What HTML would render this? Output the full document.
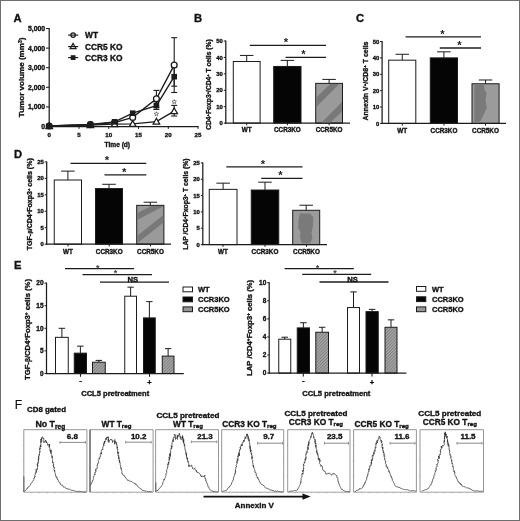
<!DOCTYPE html>
<html><head><meta charset="utf-8"><title>Figure</title>
<style>
html,body{margin:0;padding:0;background:#fff;}
body{width:520px;height:521px;overflow:hidden;}
svg{display:block;font-family:"Liberation Sans",Arial,Helvetica,sans-serif;}
text{stroke:#111;stroke-width:0.34px;paint-order:stroke;}
</style></head><body>
<svg width="520" height="521" viewBox="0 0 520 521">
<defs>
<pattern id="hFine" width="2.2" height="2.2" patternUnits="userSpaceOnUse" patternTransform="rotate(-45)">
<rect width="2.2" height="2.2" fill="#a9a9a9"/><rect width="2.2" height="1.0" fill="#7f7f7f"/></pattern>
<pattern id="hBand" width="20" height="20" patternUnits="userSpaceOnUse" patternTransform="rotate(-42) translate(0,3)">
<rect width="20" height="20" fill="#9a9a9a"/><rect y="0" width="20" height="7" fill="#787878"/></pattern>
<pattern id="hBand2" width="20" height="20" patternUnits="userSpaceOnUse" patternTransform="rotate(-38) translate(0,9)">
<rect width="20" height="20" fill="#9a9a9a"/><rect y="0" width="20" height="7" fill="#787878"/></pattern>
</defs>
<rect x="0.5" y="0.5" width="519" height="520" fill="#fff" stroke="#6e6e6e" stroke-width="1"/>
<text x="13.40" y="21.90" font-size="11.2" text-anchor="start" font-weight="bold" fill="#111" >A</text>
<text x="194.00" y="21.70" font-size="11.2" text-anchor="start" font-weight="bold" fill="#111" >B</text>
<text x="356.00" y="21.60" font-size="11.2" text-anchor="start" font-weight="bold" fill="#111" >C</text>
<text x="14.00" y="157.60" font-size="11.2" text-anchor="start" font-weight="bold" fill="#111" >D</text>
<text x="14.00" y="269.40" font-size="11.2" text-anchor="start" font-weight="bold" fill="#111" >E</text>
<text x="14.80" y="409.20" font-size="12.2" text-anchor="start" font-weight="normal" fill="#111" style="stroke-width:0.15px">F</text>
<line x1="49.20" y1="28.00" x2="49.20" y2="127.10" stroke="#1c1c1c" stroke-width="1.25" />
<line x1="48.60" y1="126.50" x2="198.57" y2="126.50" stroke="#1c1c1c" stroke-width="1.25" />
<line x1="46.00" y1="126.50" x2="49.20" y2="126.50" stroke="#1c1c1c" stroke-width="1.05" />
<text x="45.20" y="128.90" font-size="6.9" text-anchor="end" font-weight="bold" fill="#111" >0</text>
<line x1="46.00" y1="106.90" x2="49.20" y2="106.90" stroke="#1c1c1c" stroke-width="1.05" />
<text x="45.20" y="109.30" font-size="6.9" text-anchor="end" font-weight="bold" fill="#111" >1,000</text>
<line x1="46.00" y1="87.30" x2="49.20" y2="87.30" stroke="#1c1c1c" stroke-width="1.05" />
<text x="45.20" y="89.70" font-size="6.9" text-anchor="end" font-weight="bold" fill="#111" >2,000</text>
<line x1="46.00" y1="67.70" x2="49.20" y2="67.70" stroke="#1c1c1c" stroke-width="1.05" />
<text x="45.20" y="70.10" font-size="6.9" text-anchor="end" font-weight="bold" fill="#111" >3,000</text>
<line x1="46.00" y1="48.10" x2="49.20" y2="48.10" stroke="#1c1c1c" stroke-width="1.05" />
<text x="45.20" y="50.50" font-size="6.9" text-anchor="end" font-weight="bold" fill="#111" >4,000</text>
<line x1="46.00" y1="28.50" x2="49.20" y2="28.50" stroke="#1c1c1c" stroke-width="1.05" />
<text x="45.20" y="30.90" font-size="6.9" text-anchor="end" font-weight="bold" fill="#111" >5,000</text>
<line x1="49.20" y1="126.50" x2="49.20" y2="128.90" stroke="#1c1c1c" stroke-width="1.0" />
<text x="49.20" y="136.80" font-size="6.2" text-anchor="middle" font-weight="bold" fill="#111" >0</text>
<line x1="78.97" y1="126.50" x2="78.97" y2="128.90" stroke="#1c1c1c" stroke-width="1.0" />
<text x="78.97" y="136.80" font-size="6.2" text-anchor="middle" font-weight="bold" fill="#111" >5</text>
<line x1="108.75" y1="126.50" x2="108.75" y2="128.90" stroke="#1c1c1c" stroke-width="1.0" />
<text x="108.75" y="136.80" font-size="6.2" text-anchor="middle" font-weight="bold" fill="#111" >10</text>
<line x1="138.53" y1="126.50" x2="138.53" y2="128.90" stroke="#1c1c1c" stroke-width="1.0" />
<text x="138.53" y="136.80" font-size="6.2" text-anchor="middle" font-weight="bold" fill="#111" >15</text>
<line x1="168.30" y1="126.50" x2="168.30" y2="128.90" stroke="#1c1c1c" stroke-width="1.0" />
<text x="168.30" y="136.80" font-size="6.2" text-anchor="middle" font-weight="bold" fill="#111" >20</text>
<line x1="198.07" y1="126.50" x2="198.07" y2="128.90" stroke="#1c1c1c" stroke-width="1.0" />
<text x="198.07" y="136.80" font-size="6.2" text-anchor="middle" font-weight="bold" fill="#111" >25</text>
<text x="117.30" y="147.20" font-size="6.6" text-anchor="middle" font-weight="bold" fill="#111" >Time (d)</text>
<text transform="translate(23.50,77.40) rotate(-90)" font-size="8.05" text-anchor="middle" font-weight="bold" fill="#111">Tumor volume (mm<tspan baseline-shift="46%" font-size="0.62em">3</tspan>)</text>
<line x1="174.20" y1="37.70" x2="174.20" y2="92.50" stroke="#1c1c1c" stroke-width="1.1" />
<line x1="171.20" y1="37.70" x2="177.20" y2="37.70" stroke="#1c1c1c" stroke-width="1.1" />
<line x1="171.20" y1="92.50" x2="177.20" y2="92.50" stroke="#1c1c1c" stroke-width="1.1" />
<line x1="156.40" y1="90.40" x2="156.40" y2="107.20" stroke="#1c1c1c" stroke-width="1.1" />
<line x1="153.40" y1="90.40" x2="159.40" y2="90.40" stroke="#1c1c1c" stroke-width="1.1" />
<line x1="153.40" y1="107.20" x2="159.40" y2="107.20" stroke="#1c1c1c" stroke-width="1.1" />
<line x1="174.20" y1="67.20" x2="174.20" y2="86.20" stroke="#1c1c1c" stroke-width="1.1" />
<line x1="171.20" y1="67.20" x2="177.20" y2="67.20" stroke="#1c1c1c" stroke-width="1.1" />
<line x1="171.20" y1="86.20" x2="177.20" y2="86.20" stroke="#1c1c1c" stroke-width="1.1" />
<line x1="156.40" y1="101.80" x2="156.40" y2="109.40" stroke="#1c1c1c" stroke-width="1.1" />
<line x1="153.40" y1="101.80" x2="159.40" y2="101.80" stroke="#1c1c1c" stroke-width="1.1" />
<line x1="153.40" y1="109.40" x2="159.40" y2="109.40" stroke="#1c1c1c" stroke-width="1.1" />
<line x1="174.20" y1="105.40" x2="174.20" y2="116.00" stroke="#1c1c1c" stroke-width="1.1" />
<line x1="171.20" y1="105.40" x2="177.20" y2="105.40" stroke="#1c1c1c" stroke-width="1.1" />
<line x1="171.20" y1="116.00" x2="177.20" y2="116.00" stroke="#1c1c1c" stroke-width="1.1" />
<line x1="132.70" y1="115.00" x2="132.70" y2="119.50" stroke="#1c1c1c" stroke-width="1.1" />
<line x1="130.20" y1="115.00" x2="135.20" y2="115.00" stroke="#1c1c1c" stroke-width="1.1" />
<line x1="130.20" y1="119.50" x2="135.20" y2="119.50" stroke="#1c1c1c" stroke-width="1.1" />
<polyline fill="none" stroke="#1c1c1c" stroke-width="1.35" points="49.2,126.0 90.4,124.6 114.6,122.6 132.7,117.4 156.4,98.8 174.2,65.1"/>
<polyline fill="none" stroke="#1c1c1c" stroke-width="1.35" points="49.2,126.0 90.4,125.2 114.6,124.2 132.7,123.9 156.4,121.6 174.2,111.2"/>
<polyline fill="none" stroke="#1c1c1c" stroke-width="1.35" points="49.2,126.0 90.4,124.4 114.6,121.8 132.7,113.2 156.4,105.6 174.2,76.7"/>
<circle cx="49.2" cy="126.0" r="2.9" fill="#fff" stroke="#1c1c1c" stroke-width="1.3"/>
<circle cx="90.4" cy="124.6" r="2.9" fill="#fff" stroke="#1c1c1c" stroke-width="1.3"/>
<circle cx="114.6" cy="122.6" r="2.9" fill="#fff" stroke="#1c1c1c" stroke-width="1.3"/>
<circle cx="132.7" cy="117.4" r="2.9" fill="#fff" stroke="#1c1c1c" stroke-width="1.3"/>
<circle cx="156.4" cy="98.8" r="2.9" fill="#fff" stroke="#1c1c1c" stroke-width="1.3"/>
<circle cx="174.2" cy="65.1" r="2.9" fill="#fff" stroke="#1c1c1c" stroke-width="1.3"/>
<polygon points="49.2,122.7 45.9,128.5 52.5,128.5" fill="#fff" stroke="#1c1c1c" stroke-width="1.25"/>
<polygon points="90.4,121.9 87.1,127.7 93.7,127.7" fill="#fff" stroke="#1c1c1c" stroke-width="1.25"/>
<polygon points="114.6,120.9 111.3,126.7 117.9,126.7" fill="#fff" stroke="#1c1c1c" stroke-width="1.25"/>
<polygon points="132.7,120.6 129.4,126.4 136.0,126.4" fill="#fff" stroke="#1c1c1c" stroke-width="1.25"/>
<polygon points="156.4,118.3 153.1,124.1 159.7,124.1" fill="#fff" stroke="#1c1c1c" stroke-width="1.25"/>
<polygon points="174.2,107.9 170.9,113.7 177.5,113.7" fill="#fff" stroke="#1c1c1c" stroke-width="1.25"/>
<rect x="46.4" y="123.2" width="5.6" height="5.6" fill="#1c1c1c"/>
<rect x="87.6" y="121.6" width="5.6" height="5.6" fill="#1c1c1c"/>
<rect x="111.8" y="119.0" width="5.6" height="5.6" fill="#1c1c1c"/>
<rect x="129.9" y="110.4" width="5.6" height="5.6" fill="#1c1c1c"/>
<rect x="153.6" y="102.8" width="5.6" height="5.6" fill="#1c1c1c"/>
<rect x="171.4" y="73.9" width="5.6" height="5.6" fill="#1c1c1c"/>
<polygon points="156.40,111.70 157.01,113.16 158.59,113.29 157.38,114.32 157.75,115.86 156.40,115.03 155.05,115.86 155.42,114.32 154.21,113.29 155.79,113.16" fill="#fff" stroke="#555" stroke-width="0.75"/>
<polygon points="174.20,99.50 174.81,100.96 176.39,101.09 175.18,102.12 175.55,103.66 174.20,102.83 172.85,103.66 173.22,102.12 172.01,101.09 173.59,100.96" fill="#fff" stroke="#555" stroke-width="0.75"/>
<circle cx="73.1" cy="35.1" r="2.2" fill="#fff" stroke="#1c1c1c" stroke-width="1.3"/>
<line x1="68.10" y1="35.10" x2="78.20" y2="35.10" stroke="#1c1c1c" stroke-width="1.15" />
<text x="85.00" y="38.00" font-size="8.35" text-anchor="start" font-weight="bold" fill="#111" >WT</text>
<polygon points="73.1,43.4 70.2,48.5 76.0,48.5" fill="#fff" stroke="#1c1c1c" stroke-width="1.25"/>
<line x1="68.10" y1="46.60" x2="78.20" y2="46.60" stroke="#1c1c1c" stroke-width="1.15" />
<text x="85.00" y="49.50" font-size="8.35" text-anchor="start" font-weight="bold" fill="#111" >CCR5 KO</text>
<rect x="70.7" y="55.2" width="4.8" height="4.8" fill="#1c1c1c"/>
<line x1="68.10" y1="57.60" x2="78.20" y2="57.60" stroke="#1c1c1c" stroke-width="1.15" />
<text x="85.00" y="60.50" font-size="8.35" text-anchor="start" font-weight="bold" fill="#111" >CCR3 KO</text>
<line x1="246.70" y1="55.45" x2="246.70" y2="61.52" stroke="#1c1c1c" stroke-width="1.0" />
<line x1="239.95" y1="55.45" x2="253.45" y2="55.45" stroke="#1c1c1c" stroke-width="1.0" />
<rect x="233.30" y="61.52" width="26.80" height="61.57" fill="#fff" stroke="#1c1c1c" stroke-width="1.0" />
<line x1="287.35" y1="60.38" x2="287.35" y2="66.45" stroke="#1c1c1c" stroke-width="1.0" />
<line x1="280.60" y1="60.38" x2="294.10" y2="60.38" stroke="#1c1c1c" stroke-width="1.0" />
<rect x="273.70" y="66.45" width="27.30" height="56.65" fill="#050505" stroke="#1c1c1c" stroke-width="1.0" />
<line x1="329.10" y1="79.42" x2="329.10" y2="83.36" stroke="#1c1c1c" stroke-width="1.0" />
<line x1="322.35" y1="79.42" x2="335.85" y2="79.42" stroke="#1c1c1c" stroke-width="1.0" />
<rect x="315.70" y="83.36" width="26.80" height="39.74" fill="#9a9a9a" stroke="#1c1c1c" stroke-width="1.0" />
<line x1="225.80" y1="40.50" x2="225.80" y2="123.70" stroke="#1c1c1c" stroke-width="1.25" />
<line x1="225.20" y1="123.10" x2="350.00" y2="123.10" stroke="#1c1c1c" stroke-width="1.25" />
<line x1="223.80" y1="123.10" x2="225.80" y2="123.10" stroke="#1c1c1c" stroke-width="1.0" />
<text x="222.90" y="125.22" font-size="5.9" text-anchor="end" font-weight="bold" fill="#111" >0</text>
<line x1="223.80" y1="106.68" x2="225.80" y2="106.68" stroke="#1c1c1c" stroke-width="1.0" />
<text x="222.90" y="108.80" font-size="5.9" text-anchor="end" font-weight="bold" fill="#111" >10</text>
<line x1="223.80" y1="90.26" x2="225.80" y2="90.26" stroke="#1c1c1c" stroke-width="1.0" />
<text x="222.90" y="92.38" font-size="5.9" text-anchor="end" font-weight="bold" fill="#111" >20</text>
<line x1="223.80" y1="73.84" x2="225.80" y2="73.84" stroke="#1c1c1c" stroke-width="1.0" />
<text x="222.90" y="75.96" font-size="5.9" text-anchor="end" font-weight="bold" fill="#111" >30</text>
<line x1="223.80" y1="57.42" x2="225.80" y2="57.42" stroke="#1c1c1c" stroke-width="1.0" />
<text x="222.90" y="59.54" font-size="5.9" text-anchor="end" font-weight="bold" fill="#111" >40</text>
<line x1="223.80" y1="41.00" x2="225.80" y2="41.00" stroke="#1c1c1c" stroke-width="1.0" />
<text x="222.90" y="43.12" font-size="5.9" text-anchor="end" font-weight="bold" fill="#111" >50</text>
<line x1="246.70" y1="123.10" x2="246.70" y2="125.30" stroke="#1c1c1c" stroke-width="1.0" />
<text x="246.70" y="132.20" font-size="6.35" text-anchor="middle" font-weight="bold" fill="#111" >WT</text>
<line x1="287.40" y1="123.10" x2="287.40" y2="125.30" stroke="#1c1c1c" stroke-width="1.0" />
<text x="287.40" y="132.20" font-size="6.35" text-anchor="middle" font-weight="bold" fill="#111" >CCR3KO</text>
<line x1="329.10" y1="123.10" x2="329.10" y2="125.30" stroke="#1c1c1c" stroke-width="1.0" />
<text x="329.10" y="132.20" font-size="6.35" text-anchor="middle" font-weight="bold" fill="#111" >CCR5KO</text>
<clipPath id="bc1"><rect x="316.20" y="83.90" width="25.80" height="38.70"/></clipPath>
<g clip-path="url(#bc1)">
<polygon points="315.2,98.8 343.0,71.0 343.0,80.2 315.2,108.0" fill="#787878"/>
<polygon points="315.2,128.8 343.0,101.0 343.0,110.2 315.2,138.0" fill="#787878"/>
</g>
<text transform="translate(211.00,84.60) rotate(-90)" font-size="6.7" text-anchor="middle" font-weight="bold" fill="#111">CD4<tspan baseline-shift="46%" font-size="0.62em">+</tspan>Foxp3<tspan baseline-shift="46%" font-size="0.62em">+</tspan>/CD4<tspan baseline-shift="46%" font-size="0.62em">+</tspan> T cells (%)</text>
<line x1="249.80" y1="45.40" x2="326.00" y2="45.40" stroke="#1c1c1c" stroke-width="1.3" />
<text x="286.00" y="46.11" font-size="11.25" text-anchor="middle" font-weight="bold" fill="#222" style="stroke:none">*</text>
<line x1="285.60" y1="57.30" x2="326.00" y2="57.30" stroke="#1c1c1c" stroke-width="1.3" />
<text x="303.40" y="57.91" font-size="11.25" text-anchor="middle" font-weight="bold" fill="#222" style="stroke:none">*</text>
<line x1="402.25" y1="54.28" x2="402.25" y2="60.17" stroke="#1c1c1c" stroke-width="1.0" />
<line x1="395.50" y1="54.28" x2="409.00" y2="54.28" stroke="#1c1c1c" stroke-width="1.0" />
<rect x="388.70" y="60.17" width="27.10" height="63.23" fill="#fff" stroke="#1c1c1c" stroke-width="1.0" />
<line x1="443.90" y1="51.82" x2="443.90" y2="57.88" stroke="#1c1c1c" stroke-width="1.0" />
<line x1="437.15" y1="51.82" x2="450.65" y2="51.82" stroke="#1c1c1c" stroke-width="1.0" />
<rect x="430.30" y="57.88" width="27.20" height="65.52" fill="#050505" stroke="#1c1c1c" stroke-width="1.0" />
<line x1="485.55" y1="79.99" x2="485.55" y2="83.76" stroke="#1c1c1c" stroke-width="1.0" />
<line x1="478.80" y1="79.99" x2="492.30" y2="79.99" stroke="#1c1c1c" stroke-width="1.0" />
<rect x="472.00" y="83.76" width="27.10" height="39.64" fill="#9b9b9b" stroke="#1c1c1c" stroke-width="1.0" />
<line x1="382.10" y1="41.00" x2="382.10" y2="124.00" stroke="#1c1c1c" stroke-width="1.25" />
<line x1="381.50" y1="123.40" x2="506.00" y2="123.40" stroke="#1c1c1c" stroke-width="1.25" />
<line x1="380.10" y1="123.40" x2="382.10" y2="123.40" stroke="#1c1c1c" stroke-width="1.0" />
<text x="379.20" y="125.52" font-size="5.9" text-anchor="end" font-weight="bold" fill="#111" >0</text>
<line x1="380.10" y1="107.02" x2="382.10" y2="107.02" stroke="#1c1c1c" stroke-width="1.0" />
<text x="379.20" y="109.14" font-size="5.9" text-anchor="end" font-weight="bold" fill="#111" >10</text>
<line x1="380.10" y1="90.64" x2="382.10" y2="90.64" stroke="#1c1c1c" stroke-width="1.0" />
<text x="379.20" y="92.76" font-size="5.9" text-anchor="end" font-weight="bold" fill="#111" >20</text>
<line x1="380.10" y1="74.26" x2="382.10" y2="74.26" stroke="#1c1c1c" stroke-width="1.0" />
<text x="379.20" y="76.38" font-size="5.9" text-anchor="end" font-weight="bold" fill="#111" >30</text>
<line x1="380.10" y1="57.88" x2="382.10" y2="57.88" stroke="#1c1c1c" stroke-width="1.0" />
<text x="379.20" y="60.00" font-size="5.9" text-anchor="end" font-weight="bold" fill="#111" >40</text>
<line x1="380.10" y1="41.50" x2="382.10" y2="41.50" stroke="#1c1c1c" stroke-width="1.0" />
<text x="379.20" y="43.62" font-size="5.9" text-anchor="end" font-weight="bold" fill="#111" >50</text>
<line x1="402.30" y1="123.40" x2="402.30" y2="125.60" stroke="#1c1c1c" stroke-width="1.0" />
<text x="402.30" y="132.60" font-size="6.35" text-anchor="middle" font-weight="bold" fill="#111" >WT</text>
<line x1="444.00" y1="123.40" x2="444.00" y2="125.60" stroke="#1c1c1c" stroke-width="1.0" />
<text x="444.00" y="132.60" font-size="6.35" text-anchor="middle" font-weight="bold" fill="#111" >CCR3KO</text>
<line x1="485.50" y1="123.40" x2="485.50" y2="125.60" stroke="#1c1c1c" stroke-width="1.0" />
<text x="485.50" y="132.60" font-size="6.35" text-anchor="middle" font-weight="bold" fill="#111" >CCR5KO</text>
<path d="M474.3,84.5 L484,84.5 L484.5,90 L486.5,93 L485.5,100 L486.8,108 L484,114 L481.5,119 L479.5,122.9 L474.3,122.9 Z" fill="#7a7a7a"/>
<text transform="translate(368.40,81.00) rotate(-90)" font-size="7.0" text-anchor="middle" font-weight="bold" fill="#111">Annexin V<tspan baseline-shift="46%" font-size="0.62em">+</tspan>/CD8<tspan baseline-shift="46%" font-size="0.62em">+</tspan> T cells</text>
<line x1="405.60" y1="36.80" x2="481.00" y2="36.80" stroke="#1c1c1c" stroke-width="1.3" />
<text x="442.50" y="37.51" font-size="11.25" text-anchor="middle" font-weight="bold" fill="#222" style="stroke:none">*</text>
<line x1="439.80" y1="48.00" x2="481.00" y2="48.00" stroke="#1c1c1c" stroke-width="1.3" />
<text x="459.40" y="48.91" font-size="11.25" text-anchor="middle" font-weight="bold" fill="#222" style="stroke:none">*</text>
<line x1="67.88" y1="171.12" x2="67.88" y2="180.01" stroke="#1c1c1c" stroke-width="1.0" />
<line x1="61.12" y1="171.12" x2="74.62" y2="171.12" stroke="#1c1c1c" stroke-width="1.0" />
<rect x="54.25" y="180.01" width="27.25" height="64.19" fill="#fff" stroke="#1c1c1c" stroke-width="1.0" />
<line x1="109.00" y1="184.29" x2="109.00" y2="188.57" stroke="#1c1c1c" stroke-width="1.0" />
<line x1="102.25" y1="184.29" x2="115.75" y2="184.29" stroke="#1c1c1c" stroke-width="1.0" />
<rect x="95.50" y="188.57" width="27.00" height="55.63" fill="#050505" stroke="#1c1c1c" stroke-width="1.0" />
<line x1="150.30" y1="202.23" x2="150.30" y2="205.35" stroke="#1c1c1c" stroke-width="1.0" />
<line x1="143.55" y1="202.23" x2="157.05" y2="202.23" stroke="#1c1c1c" stroke-width="1.0" />
<rect x="136.70" y="205.35" width="27.20" height="38.85" fill="#9a9a9a" stroke="#1c1c1c" stroke-width="1.0" />
<line x1="46.70" y1="161.40" x2="46.70" y2="244.80" stroke="#1c1c1c" stroke-width="1.25" />
<line x1="46.10" y1="244.20" x2="171.00" y2="244.20" stroke="#1c1c1c" stroke-width="1.25" />
<line x1="44.70" y1="244.20" x2="46.70" y2="244.20" stroke="#1c1c1c" stroke-width="1.0" />
<text x="43.80" y="246.32" font-size="5.9" text-anchor="end" font-weight="bold" fill="#111" >0</text>
<line x1="44.70" y1="227.74" x2="46.70" y2="227.74" stroke="#1c1c1c" stroke-width="1.0" />
<text x="43.80" y="229.86" font-size="5.9" text-anchor="end" font-weight="bold" fill="#111" >5</text>
<line x1="44.70" y1="211.28" x2="46.70" y2="211.28" stroke="#1c1c1c" stroke-width="1.0" />
<text x="43.80" y="213.40" font-size="5.9" text-anchor="end" font-weight="bold" fill="#111" >10</text>
<line x1="44.70" y1="194.82" x2="46.70" y2="194.82" stroke="#1c1c1c" stroke-width="1.0" />
<text x="43.80" y="196.94" font-size="5.9" text-anchor="end" font-weight="bold" fill="#111" >15</text>
<line x1="44.70" y1="178.36" x2="46.70" y2="178.36" stroke="#1c1c1c" stroke-width="1.0" />
<text x="43.80" y="180.48" font-size="5.9" text-anchor="end" font-weight="bold" fill="#111" >20</text>
<line x1="44.70" y1="161.90" x2="46.70" y2="161.90" stroke="#1c1c1c" stroke-width="1.0" />
<text x="43.80" y="164.02" font-size="5.9" text-anchor="end" font-weight="bold" fill="#111" >25</text>
<line x1="68.00" y1="244.20" x2="68.00" y2="246.40" stroke="#1c1c1c" stroke-width="1.0" />
<text x="68.00" y="253.60" font-size="6.35" text-anchor="middle" font-weight="bold" fill="#111" >WT</text>
<line x1="109.20" y1="244.20" x2="109.20" y2="246.40" stroke="#1c1c1c" stroke-width="1.0" />
<text x="109.20" y="253.60" font-size="6.35" text-anchor="middle" font-weight="bold" fill="#111" >CCR3KO</text>
<line x1="150.50" y1="244.20" x2="150.50" y2="246.40" stroke="#1c1c1c" stroke-width="1.0" />
<text x="150.50" y="253.60" font-size="6.35" text-anchor="middle" font-weight="bold" fill="#111" >CCR5KO</text>
<clipPath id="bc2"><rect x="137.20" y="205.90" width="26.20" height="37.80"/></clipPath>
<g clip-path="url(#bc2)">
<polygon points="136.2,213.7 164.4,199.2 164.4,205.8 136.2,220.3" fill="#787878"/>
<polygon points="136.2,236.6 164.4,214.1 164.4,221.7 136.2,244.2" fill="#787878"/>
</g>
<text transform="translate(31.70,204.20) rotate(-90)" font-size="7.0" text-anchor="middle" font-weight="bold" fill="#111">TGF-<tspan font-size="0.85em">β</tspan>/CD4<tspan baseline-shift="46%" font-size="0.62em">+</tspan>Foxp3<tspan baseline-shift="46%" font-size="0.62em">+</tspan> cells (%)</text>
<line x1="70.50" y1="163.30" x2="146.30" y2="163.30" stroke="#1c1c1c" stroke-width="1.3" />
<text x="107.00" y="164.11" font-size="11.25" text-anchor="middle" font-weight="bold" fill="#222" style="stroke:none">*</text>
<line x1="104.50" y1="174.90" x2="146.30" y2="174.90" stroke="#1c1c1c" stroke-width="1.3" />
<text x="124.30" y="175.71" font-size="11.25" text-anchor="middle" font-weight="bold" fill="#222" style="stroke:none">*</text>
<line x1="223.12" y1="183.16" x2="223.12" y2="189.37" stroke="#1c1c1c" stroke-width="1.0" />
<line x1="216.38" y1="183.16" x2="229.88" y2="183.16" stroke="#1c1c1c" stroke-width="1.0" />
<rect x="209.25" y="189.37" width="27.75" height="55.23" fill="#fff" stroke="#1c1c1c" stroke-width="1.0" />
<line x1="265.00" y1="182.18" x2="265.00" y2="190.02" stroke="#1c1c1c" stroke-width="1.0" />
<line x1="258.25" y1="182.18" x2="271.75" y2="182.18" stroke="#1c1c1c" stroke-width="1.0" />
<rect x="251.25" y="190.02" width="27.50" height="54.58" fill="#050505" stroke="#1c1c1c" stroke-width="1.0" />
<line x1="306.20" y1="205.22" x2="306.20" y2="210.29" stroke="#1c1c1c" stroke-width="1.0" />
<line x1="299.45" y1="205.22" x2="312.95" y2="205.22" stroke="#1c1c1c" stroke-width="1.0" />
<rect x="292.70" y="210.29" width="27.00" height="34.31" fill="#9b9b9b" stroke="#1c1c1c" stroke-width="1.0" />
<line x1="202.80" y1="162.40" x2="202.80" y2="245.20" stroke="#1c1c1c" stroke-width="1.25" />
<line x1="202.20" y1="244.60" x2="327.00" y2="244.60" stroke="#1c1c1c" stroke-width="1.25" />
<line x1="200.80" y1="244.60" x2="202.80" y2="244.60" stroke="#1c1c1c" stroke-width="1.0" />
<text x="199.90" y="246.72" font-size="5.9" text-anchor="end" font-weight="bold" fill="#111" >0</text>
<line x1="200.80" y1="228.26" x2="202.80" y2="228.26" stroke="#1c1c1c" stroke-width="1.0" />
<text x="199.90" y="230.38" font-size="5.9" text-anchor="end" font-weight="bold" fill="#111" >5</text>
<line x1="200.80" y1="211.92" x2="202.80" y2="211.92" stroke="#1c1c1c" stroke-width="1.0" />
<text x="199.90" y="214.04" font-size="5.9" text-anchor="end" font-weight="bold" fill="#111" >10</text>
<line x1="200.80" y1="195.58" x2="202.80" y2="195.58" stroke="#1c1c1c" stroke-width="1.0" />
<text x="199.90" y="197.70" font-size="5.9" text-anchor="end" font-weight="bold" fill="#111" >15</text>
<line x1="200.80" y1="179.24" x2="202.80" y2="179.24" stroke="#1c1c1c" stroke-width="1.0" />
<text x="199.90" y="181.36" font-size="5.9" text-anchor="end" font-weight="bold" fill="#111" >20</text>
<line x1="200.80" y1="162.90" x2="202.80" y2="162.90" stroke="#1c1c1c" stroke-width="1.0" />
<text x="199.90" y="165.02" font-size="5.9" text-anchor="end" font-weight="bold" fill="#111" >25</text>
<line x1="223.00" y1="244.60" x2="223.00" y2="246.80" stroke="#1c1c1c" stroke-width="1.0" />
<text x="223.00" y="253.60" font-size="6.35" text-anchor="middle" font-weight="bold" fill="#111" >WT</text>
<line x1="265.00" y1="244.60" x2="265.00" y2="246.80" stroke="#1c1c1c" stroke-width="1.0" />
<text x="265.00" y="253.60" font-size="6.35" text-anchor="middle" font-weight="bold" fill="#111" >CCR3KO</text>
<line x1="306.50" y1="244.60" x2="306.50" y2="246.80" stroke="#1c1c1c" stroke-width="1.0" />
<text x="306.50" y="253.60" font-size="6.35" text-anchor="middle" font-weight="bold" fill="#111" >CCR5KO</text>
<path d="M300,213.5 L310,213.5 L313.3,217 L313,226 L311.5,233 L312.5,238 L310,243.6 L302,243.6 L300,238 L300.5,232 L298.2,228 L298.5,220 Z" fill="#7a7a7a"/>
<text transform="translate(188.40,204.10) rotate(-90)" font-size="6.8" text-anchor="middle" font-weight="bold" fill="#111">LAP /CD4<tspan baseline-shift="46%" font-size="0.62em">+</tspan>Fxop3<tspan baseline-shift="46%" font-size="0.62em">+</tspan> T cells (%)</text>
<line x1="226.30" y1="166.80" x2="302.50" y2="166.80" stroke="#1c1c1c" stroke-width="1.3" />
<text x="263.00" y="167.91" font-size="11.25" text-anchor="middle" font-weight="bold" fill="#222" style="stroke:none">*</text>
<line x1="261.30" y1="178.30" x2="302.50" y2="178.30" stroke="#1c1c1c" stroke-width="1.3" />
<text x="280.50" y="179.31" font-size="11.25" text-anchor="middle" font-weight="bold" fill="#222" style="stroke:none">*</text>
<line x1="61.88" y1="328.30" x2="61.88" y2="337.34" stroke="#1c1c1c" stroke-width="1.0" />
<line x1="58.62" y1="328.30" x2="65.12" y2="328.30" stroke="#1c1c1c" stroke-width="1.0" />
<rect x="55.50" y="337.34" width="12.75" height="36.16" fill="#fff" stroke="#1c1c1c" stroke-width="1.0" />
<line x1="80.38" y1="346.15" x2="80.38" y2="353.16" stroke="#1c1c1c" stroke-width="1.0" />
<line x1="77.12" y1="346.15" x2="83.62" y2="346.15" stroke="#1c1c1c" stroke-width="1.0" />
<rect x="74.25" y="353.16" width="12.25" height="20.34" fill="#050505" stroke="#1c1c1c" stroke-width="1.0" />
<line x1="98.88" y1="360.39" x2="98.88" y2="362.20" stroke="#1c1c1c" stroke-width="1.0" />
<line x1="95.62" y1="360.39" x2="102.12" y2="360.39" stroke="#1c1c1c" stroke-width="1.0" />
<rect x="92.50" y="362.20" width="12.75" height="11.30" fill="url(#hFine)" stroke="#1c1c1c" stroke-width="1.0" />
<line x1="130.62" y1="287.17" x2="130.62" y2="296.21" stroke="#1c1c1c" stroke-width="1.0" />
<line x1="127.44" y1="287.17" x2="133.81" y2="287.17" stroke="#1c1c1c" stroke-width="1.0" />
<rect x="124.75" y="296.21" width="11.75" height="77.29" fill="#fff" stroke="#1c1c1c" stroke-width="1.0" />
<line x1="149.38" y1="301.63" x2="149.38" y2="317.90" stroke="#1c1c1c" stroke-width="1.0" />
<line x1="146.19" y1="301.63" x2="152.56" y2="301.63" stroke="#1c1c1c" stroke-width="1.0" />
<rect x="143.50" y="317.90" width="11.75" height="55.60" fill="#050505" stroke="#1c1c1c" stroke-width="1.0" />
<line x1="168.12" y1="348.64" x2="168.12" y2="356.10" stroke="#1c1c1c" stroke-width="1.0" />
<line x1="164.94" y1="348.64" x2="171.31" y2="348.64" stroke="#1c1c1c" stroke-width="1.0" />
<rect x="162.25" y="356.10" width="11.75" height="17.40" fill="url(#hFine)" stroke="#1c1c1c" stroke-width="1.0" />
<line x1="46.50" y1="282.60" x2="46.50" y2="374.10" stroke="#1c1c1c" stroke-width="1.25" />
<line x1="45.90" y1="373.50" x2="183.80" y2="373.50" stroke="#1c1c1c" stroke-width="1.25" />
<line x1="44.50" y1="373.50" x2="46.50" y2="373.50" stroke="#1c1c1c" stroke-width="1.0" />
<text x="43.60" y="375.84" font-size="6.5" text-anchor="end" font-weight="bold" fill="#111" >0</text>
<line x1="44.50" y1="350.90" x2="46.50" y2="350.90" stroke="#1c1c1c" stroke-width="1.0" />
<text x="43.60" y="353.24" font-size="6.5" text-anchor="end" font-weight="bold" fill="#111" >5</text>
<line x1="44.50" y1="328.30" x2="46.50" y2="328.30" stroke="#1c1c1c" stroke-width="1.0" />
<text x="43.60" y="330.64" font-size="6.5" text-anchor="end" font-weight="bold" fill="#111" >10</text>
<line x1="44.50" y1="305.70" x2="46.50" y2="305.70" stroke="#1c1c1c" stroke-width="1.0" />
<text x="43.60" y="308.04" font-size="6.5" text-anchor="end" font-weight="bold" fill="#111" >15</text>
<line x1="44.50" y1="283.10" x2="46.50" y2="283.10" stroke="#1c1c1c" stroke-width="1.0" />
<text x="43.60" y="285.44" font-size="6.5" text-anchor="end" font-weight="bold" fill="#111" >20</text>
<line x1="80.50" y1="373.50" x2="80.50" y2="376.80" stroke="#1c1c1c" stroke-width="1.1" />
<line x1="149.50" y1="373.50" x2="149.50" y2="376.80" stroke="#1c1c1c" stroke-width="1.1" />
<text x="80.60" y="383.30" font-size="8" text-anchor="middle" font-weight="bold" fill="#111" >-</text>
<text x="149.40" y="384.90" font-size="7.5" text-anchor="middle" font-weight="bold" fill="#111" >+</text>
<text x="115.20" y="396.00" font-size="7.55" text-anchor="middle" font-weight="bold" fill="#111" >CCL5 pretreatment</text>
<text transform="translate(30.20,329.50) rotate(-90)" font-size="7.7" text-anchor="middle" font-weight="bold" fill="#111">TGF-<tspan font-size="0.85em">β</tspan>/CD4<tspan baseline-shift="46%" font-size="0.62em">+</tspan>Foxp3<tspan baseline-shift="46%" font-size="0.62em">+</tspan> cells (%)</text>
<line x1="65.00" y1="268.70" x2="134.10" y2="268.70" stroke="#1c1c1c" stroke-width="1.3" />
<text x="97.80" y="270.73" font-size="9.0" text-anchor="middle" font-weight="bold" fill="#444" style="stroke:none">*</text>
<line x1="82.50" y1="274.70" x2="152.00" y2="274.70" stroke="#1c1c1c" stroke-width="1.3" />
<text x="115.40" y="276.33" font-size="9.0" text-anchor="middle" font-weight="bold" fill="#444" style="stroke:none">*</text>
<line x1="100.00" y1="282.20" x2="169.00" y2="282.20" stroke="#1c1c1c" stroke-width="1.3" />
<text x="132.90" y="281.90" font-size="7.7" text-anchor="middle" font-weight="bold" fill="#111" >NS</text>
<rect x="183.00" y="287.00" width="9.50" height="4.80" fill="#fff" stroke="#1c1c1c" stroke-width="1.0" />
<text x="198.00" y="292.10" font-size="7.5" text-anchor="start" font-weight="bold" fill="#111" >WT</text>
<rect x="183.00" y="297.00" width="9.50" height="4.80" fill="#050505" stroke="#1c1c1c" stroke-width="1.0" />
<text x="198.00" y="302.10" font-size="7.5" text-anchor="start" font-weight="bold" fill="#111" >CCR3KO</text>
<rect x="183.00" y="306.90" width="9.50" height="4.80" fill="url(#hFine)" stroke="#1c1c1c" stroke-width="1.0" />
<text x="198.00" y="312.00" font-size="7.5" text-anchor="start" font-weight="bold" fill="#111" >CCR5KO</text>
<line x1="284.75" y1="337.21" x2="284.75" y2="339.20" stroke="#1c1c1c" stroke-width="1.0" />
<line x1="281.50" y1="337.21" x2="288.00" y2="337.21" stroke="#1c1c1c" stroke-width="1.0" />
<rect x="278.75" y="339.20" width="12.00" height="33.90" fill="#fff" stroke="#1c1c1c" stroke-width="1.0" />
<line x1="303.38" y1="322.75" x2="303.38" y2="327.90" stroke="#1c1c1c" stroke-width="1.0" />
<line x1="300.12" y1="322.75" x2="306.62" y2="322.75" stroke="#1c1c1c" stroke-width="1.0" />
<rect x="297.25" y="327.90" width="12.25" height="45.20" fill="#050505" stroke="#1c1c1c" stroke-width="1.0" />
<line x1="322.15" y1="327.27" x2="322.15" y2="332.24" stroke="#1c1c1c" stroke-width="1.0" />
<line x1="318.90" y1="327.27" x2="325.40" y2="327.27" stroke="#1c1c1c" stroke-width="1.0" />
<rect x="315.80" y="332.24" width="12.70" height="40.86" fill="url(#hFine)" stroke="#1c1c1c" stroke-width="1.0" />
<line x1="353.50" y1="291.92" x2="353.50" y2="307.56" stroke="#1c1c1c" stroke-width="1.0" />
<line x1="350.25" y1="291.92" x2="356.75" y2="291.92" stroke="#1c1c1c" stroke-width="1.0" />
<rect x="347.50" y="307.56" width="12.00" height="65.54" fill="#fff" stroke="#1c1c1c" stroke-width="1.0" />
<line x1="372.12" y1="309.37" x2="372.12" y2="311.63" stroke="#1c1c1c" stroke-width="1.0" />
<line x1="368.88" y1="309.37" x2="375.38" y2="309.37" stroke="#1c1c1c" stroke-width="1.0" />
<rect x="366.00" y="311.63" width="12.25" height="61.47" fill="#050505" stroke="#1c1c1c" stroke-width="1.0" />
<line x1="391.00" y1="319.85" x2="391.00" y2="327.27" stroke="#1c1c1c" stroke-width="1.0" />
<line x1="387.75" y1="319.85" x2="394.25" y2="319.85" stroke="#1c1c1c" stroke-width="1.0" />
<rect x="385.00" y="327.27" width="12.00" height="45.83" fill="url(#hFine)" stroke="#1c1c1c" stroke-width="1.0" />
<line x1="269.20" y1="282.20" x2="269.20" y2="373.70" stroke="#1c1c1c" stroke-width="1.25" />
<line x1="268.60" y1="373.10" x2="406.30" y2="373.10" stroke="#1c1c1c" stroke-width="1.25" />
<line x1="267.20" y1="373.10" x2="269.20" y2="373.10" stroke="#1c1c1c" stroke-width="1.0" />
<text x="266.30" y="375.44" font-size="6.5" text-anchor="end" font-weight="bold" fill="#111" >0</text>
<line x1="267.20" y1="355.02" x2="269.20" y2="355.02" stroke="#1c1c1c" stroke-width="1.0" />
<text x="266.30" y="357.36" font-size="6.5" text-anchor="end" font-weight="bold" fill="#111" >2</text>
<line x1="267.20" y1="336.94" x2="269.20" y2="336.94" stroke="#1c1c1c" stroke-width="1.0" />
<text x="266.30" y="339.28" font-size="6.5" text-anchor="end" font-weight="bold" fill="#111" >4</text>
<line x1="267.20" y1="318.86" x2="269.20" y2="318.86" stroke="#1c1c1c" stroke-width="1.0" />
<text x="266.30" y="321.20" font-size="6.5" text-anchor="end" font-weight="bold" fill="#111" >6</text>
<line x1="267.20" y1="300.78" x2="269.20" y2="300.78" stroke="#1c1c1c" stroke-width="1.0" />
<text x="266.30" y="303.12" font-size="6.5" text-anchor="end" font-weight="bold" fill="#111" >8</text>
<line x1="267.20" y1="282.70" x2="269.20" y2="282.70" stroke="#1c1c1c" stroke-width="1.0" />
<text x="266.30" y="285.04" font-size="6.5" text-anchor="end" font-weight="bold" fill="#111" >10</text>
<line x1="303.30" y1="373.10" x2="303.30" y2="376.50" stroke="#1c1c1c" stroke-width="1.1" />
<line x1="372.00" y1="373.10" x2="372.00" y2="376.50" stroke="#1c1c1c" stroke-width="1.1" />
<text x="303.30" y="383.30" font-size="8" text-anchor="middle" font-weight="bold" fill="#111" >-</text>
<text x="372.00" y="384.90" font-size="7.5" text-anchor="middle" font-weight="bold" fill="#111" >+</text>
<text x="336.30" y="396.00" font-size="7.55" text-anchor="middle" font-weight="bold" fill="#111" >CCL5 pretreatment</text>
<text transform="translate(252.10,327.90) rotate(-90)" font-size="7.65" text-anchor="middle" font-weight="bold" fill="#111">LAP /CD4<tspan baseline-shift="46%" font-size="0.62em">+</tspan>Foxp3<tspan baseline-shift="46%" font-size="0.62em">+</tspan> cells (%)</text>
<line x1="284.60" y1="268.60" x2="353.80" y2="268.60" stroke="#1c1c1c" stroke-width="1.3" />
<text x="317.50" y="270.73" font-size="9.0" text-anchor="middle" font-weight="bold" fill="#444" style="stroke:none">*</text>
<line x1="302.20" y1="274.30" x2="371.20" y2="274.30" stroke="#1c1c1c" stroke-width="1.3" />
<text x="335.10" y="275.93" font-size="9.0" text-anchor="middle" font-weight="bold" fill="#444" style="stroke:none">*</text>
<line x1="319.50" y1="282.00" x2="388.50" y2="282.00" stroke="#1c1c1c" stroke-width="1.3" />
<text x="352.50" y="281.80" font-size="7.7" text-anchor="middle" font-weight="bold" fill="#111" >NS</text>
<rect x="416.50" y="286.50" width="9.30" height="4.80" fill="#fff" stroke="#1c1c1c" stroke-width="1.0" />
<text x="432.00" y="291.60" font-size="7.5" text-anchor="start" font-weight="bold" fill="#111" >WT</text>
<rect x="416.50" y="296.80" width="9.30" height="4.80" fill="#050505" stroke="#1c1c1c" stroke-width="1.0" />
<text x="432.00" y="301.90" font-size="7.5" text-anchor="start" font-weight="bold" fill="#111" >CCR3KO</text>
<rect x="416.50" y="306.90" width="9.30" height="4.80" fill="url(#hFine)" stroke="#1c1c1c" stroke-width="1.0" />
<text x="432.00" y="312.00" font-size="7.5" text-anchor="start" font-weight="bold" fill="#111" >CCR5KO</text>
<text x="27.00" y="412.40" font-size="7.9" text-anchor="start" font-weight="bold" fill="#111" >CD8 gated</text>
<path d="M23.8,492.2 L23.8,429.7 L86.9,429.7 L86.9,492.2" fill="none" stroke="#8a8a8a" stroke-width="0.9"/>
<line x1="23.80" y1="492.20" x2="86.90" y2="492.20" stroke="#8a8a8a" stroke-width="0.8" />
<line x1="31.69" y1="492.20" x2="31.69" y2="493.40" stroke="#999" stroke-width="0.5" />
<line x1="39.58" y1="492.20" x2="39.58" y2="493.40" stroke="#999" stroke-width="0.5" />
<line x1="47.46" y1="492.20" x2="47.46" y2="493.40" stroke="#999" stroke-width="0.5" />
<line x1="55.35" y1="492.20" x2="55.35" y2="493.40" stroke="#999" stroke-width="0.5" />
<line x1="63.24" y1="492.20" x2="63.24" y2="493.40" stroke="#999" stroke-width="0.5" />
<line x1="71.12" y1="492.20" x2="71.12" y2="493.40" stroke="#999" stroke-width="0.5" />
<line x1="79.01" y1="492.20" x2="79.01" y2="493.40" stroke="#999" stroke-width="0.5" />
<line x1="22.80" y1="476.57" x2="23.80" y2="476.57" stroke="#999" stroke-width="0.5" />
<line x1="22.80" y1="460.95" x2="23.80" y2="460.95" stroke="#999" stroke-width="0.5" />
<line x1="22.80" y1="445.32" x2="23.80" y2="445.32" stroke="#999" stroke-width="0.5" />
<polyline fill="none" stroke="#2e2e2e" stroke-width="0.7" stroke-linejoin="round" points="23.9,476.5 23.9,477.2 23.9,477.8 23.9,478.5 23.9,479.2 23.9,479.8 23.9,480.5 23.9,481.2 23.9,481.8 23.9,482.5 23.9,483.2 23.9,483.8 23.9,484.5 23.9,485.1 23.9,485.8 23.9,486.5 23.9,487.1 23.9,487.8 23.9,488.5 23.9,489.1 23.9,489.8 23.9,490.5 23.9,491.1 23.9,491.7 24.6,490.9 25.1,490.3 25.6,490.3 26.1,489.8 26.7,489.1 27.2,488.0 27.7,488.2 28.1,487.0 28.7,486.7 29.2,486.6 29.5,486.1 30.0,485.5 30.5,484.5 30.9,484.4 31.0,483.4 31.5,482.9 31.9,482.7 32.1,481.7 32.8,481.1 33.1,480.4 33.2,480.4 34.0,479.6 33.9,478.0 34.0,478.3 34.4,478.0 34.8,476.3 35.0,476.8 35.0,476.6 34.8,475.3 35.2,475.0 35.2,473.7 35.6,472.8 35.4,473.5 36.2,471.2 36.5,472.4 35.8,469.6 36.5,470.5 37.2,468.8 37.0,469.7 37.2,468.4 37.4,468.7 37.5,467.3 37.8,465.1 37.6,466.3 37.4,463.4 37.2,464.9 38.1,463.4 38.4,461.8 38.0,462.7 38.3,461.8 38.5,461.0 38.2,459.6 38.4,460.5 38.8,458.1 38.5,459.6 38.7,456.3 38.7,456.7 38.6,457.6 38.6,456.8 39.3,454.1 39.4,455.3 39.3,453.9 39.6,453.0 39.6,452.0 39.6,452.1 39.9,451.7 39.9,452.4 39.8,449.0 40.3,448.8 40.2,447.8 39.5,449.6 40.4,445.6 40.5,446.6 40.7,445.0 40.5,445.2 40.8,447.0 40.8,442.9 40.9,442.6 40.9,439.1 40.9,442.7 41.6,440.9 41.9,441.3 41.5,437.7 41.9,438.7 41.1,439.7 41.6,439.0 41.7,437.9 42.6,436.7 42.7,437.0 43.1,438.7 43.9,438.3 43.8,440.3 43.9,442.9 44.5,441.4 45.3,441.0 45.8,441.6 45.6,440.1 46.3,443.0 46.6,441.6 47.7,444.7 47.7,445.4 48.2,444.2 49.2,445.7 49.4,444.5 49.1,447.2 49.7,444.5 49.4,447.3 49.9,448.5 49.7,450.3 50.6,450.5 50.3,451.5 50.9,449.8 50.8,451.3 50.8,453.3 50.9,450.1 51.4,451.2 51.1,454.1 51.6,454.4 51.9,455.2 51.9,455.7 52.2,457.8 52.1,456.4 51.7,455.9 52.4,456.5 52.2,457.9 52.4,459.4 52.6,459.7 52.6,462.5 53.0,462.0 52.5,462.0 53.3,462.4 52.9,462.2 53.5,465.0 53.6,464.8 53.2,465.6 53.5,465.0 53.7,467.5 53.7,466.9 54.1,467.1 54.4,468.0 54.5,467.9 54.0,469.8 54.6,471.3 54.6,470.1 54.8,472.4 55.3,473.3 55.3,473.9 55.6,475.0 55.2,475.1 56.3,476.0 56.1,475.9 56.1,477.8 57.3,477.6 57.2,477.5 57.3,479.6 57.8,479.6 57.9,479.5 58.4,480.7 58.5,481.2 58.9,481.3 59.4,482.6 59.8,482.4 60.5,484.4 60.5,484.1 61.3,484.6 61.8,485.5 62.2,485.4 62.7,485.3 63.0,486.6 63.8,487.2 64.3,486.7 64.9,487.5 65.5,487.6 66.2,488.7 66.7,488.0 67.4,489.2 68.0,489.5 68.6,489.0 69.2,489.0 69.9,489.7 70.5,489.7 71.1,490.2 71.8,490.4 72.4,490.3 73.0,490.6 73.7,490.6 74.3,490.8 75.0,491.0 75.6,491.2 76.3,491.4 76.9,491.6 77.6,491.6 78.2,491.1 78.9,491.4 79.5,491.4 80.2,491.4 80.9,491.6 81.6,491.6 82.2,491.9 82.9,491.9 83.5,491.9 84.2,491.9 84.9,491.9 85.5,491.9 86.2,492.0"/>
<path d="M90.0,492.2 L90.0,429.7 L153.1,429.7 L153.1,492.2" fill="none" stroke="#8a8a8a" stroke-width="0.9"/>
<line x1="90.00" y1="492.20" x2="153.10" y2="492.20" stroke="#8a8a8a" stroke-width="0.8" />
<line x1="90.00" y1="429.70" x2="90.00" y2="492.20" stroke="#444" stroke-width="1.0" />
<line x1="97.89" y1="492.20" x2="97.89" y2="493.40" stroke="#999" stroke-width="0.5" />
<line x1="105.78" y1="492.20" x2="105.78" y2="493.40" stroke="#999" stroke-width="0.5" />
<line x1="113.66" y1="492.20" x2="113.66" y2="493.40" stroke="#999" stroke-width="0.5" />
<line x1="121.55" y1="492.20" x2="121.55" y2="493.40" stroke="#999" stroke-width="0.5" />
<line x1="129.44" y1="492.20" x2="129.44" y2="493.40" stroke="#999" stroke-width="0.5" />
<line x1="137.32" y1="492.20" x2="137.32" y2="493.40" stroke="#999" stroke-width="0.5" />
<line x1="145.21" y1="492.20" x2="145.21" y2="493.40" stroke="#999" stroke-width="0.5" />
<line x1="89.00" y1="476.57" x2="90.00" y2="476.57" stroke="#999" stroke-width="0.5" />
<line x1="89.00" y1="460.95" x2="90.00" y2="460.95" stroke="#999" stroke-width="0.5" />
<line x1="89.00" y1="445.32" x2="90.00" y2="445.32" stroke="#999" stroke-width="0.5" />
<polyline fill="none" stroke="#2e2e2e" stroke-width="0.7" stroke-linejoin="round" points="90.3,485.3 90.6,485.0 91.1,484.1 91.1,484.1 91.8,483.0 91.9,482.3 92.1,482.2 92.4,480.7 92.9,480.8 92.9,480.3 93.2,479.7 93.3,478.8 93.7,477.9 93.6,476.9 93.7,476.8 93.7,475.9 94.5,475.1 94.6,475.2 94.5,474.1 95.2,474.7 95.0,473.6 94.9,472.2 95.9,472.2 95.9,469.8 95.6,470.8 96.0,468.5 96.1,468.7 96.8,468.5 97.1,468.3 97.4,468.3 97.1,465.6 97.1,465.1 97.6,465.2 97.4,465.0 98.0,463.0 98.1,463.2 98.1,462.7 98.6,462.7 98.5,461.4 98.2,460.7 99.1,459.3 99.3,458.2 99.1,459.0 99.6,458.0 100.0,458.0 99.8,456.9 100.2,456.2 100.5,456.4 100.2,454.3 100.6,454.0 100.9,452.6 101.2,452.6 101.2,453.0 101.4,454.3 101.7,452.4 101.2,451.8 102.1,449.1 102.9,449.9 102.7,449.0 102.8,448.9 102.7,447.9 102.6,447.3 102.8,447.4 103.9,445.7 103.5,444.5 103.7,445.5 103.9,442.6 104.2,443.5 104.7,441.3 104.5,443.5 104.7,441.2 105.0,441.9 105.4,440.4 106.0,438.2 106.1,439.9 106.7,437.0 106.9,437.1 107.4,438.2 108.0,436.6 107.9,437.9 107.9,437.8 108.7,437.2 108.1,441.5 108.3,438.9 108.9,442.6 109.4,440.7 109.6,440.2 110.0,439.8 111.0,439.2 111.2,440.4 111.7,439.4 112.5,440.5 112.4,442.5 112.6,441.7 113.2,440.7 113.9,441.6 114.9,441.4 114.8,439.5 114.5,444.2 115.4,441.1 115.7,442.5 116.0,442.8 116.4,443.8 116.2,442.2 116.4,445.1 117.0,444.6 117.1,445.7 117.1,447.9 117.1,448.3 117.3,446.8 117.2,449.5 117.7,449.6 117.8,449.4 117.6,453.0 117.8,451.8 118.0,453.9 117.9,453.8 118.2,453.6 118.7,452.4 117.9,455.8 118.5,456.3 118.7,456.6 118.7,455.4 118.7,458.9 118.6,457.2 119.1,457.7 119.3,461.0 119.9,460.3 119.2,460.3 119.7,461.9 119.3,461.2 119.9,463.0 119.9,462.3 120.2,463.6 120.2,464.6 120.7,465.1 120.5,467.1 120.5,467.3 121.1,467.4 120.9,469.1 121.2,468.6 121.3,468.3 121.6,469.5 121.1,469.9 121.9,471.3 122.2,471.6 121.9,472.4 121.8,473.5 122.4,473.5 122.8,474.9 123.1,475.1 124.1,475.7 124.7,475.7 124.6,476.2 125.2,477.2 125.0,477.0 126.0,478.5 126.8,479.0 126.9,479.2 127.6,479.9 127.9,480.6 128.1,480.0 129.2,480.9 130.2,481.3 130.5,481.2 131.0,481.4 131.8,481.6 132.4,482.2 133.1,482.5 133.6,483.1 134.2,483.5 135.1,483.0 135.3,484.2 135.9,484.9 136.5,484.4 136.9,485.5 137.3,485.9 137.8,485.8 138.2,486.8 138.7,487.4 139.2,487.9 139.7,488.1 140.4,488.4 140.9,489.3 141.5,489.3 142.1,489.7 142.6,490.6 143.2,490.7 143.9,490.6 144.5,490.7 145.1,491.5 145.8,490.9 146.4,490.9 147.0,491.5 147.7,491.7 148.3,491.9 149.1,491.5 149.9,491.6 150.6,491.7 151.4,491.8 152.2,491.7"/>
<path d="M155.6,492.2 L155.6,429.7 L218.5,429.7 L218.5,492.2" fill="none" stroke="#8a8a8a" stroke-width="0.9"/>
<line x1="155.60" y1="492.20" x2="218.50" y2="492.20" stroke="#8a8a8a" stroke-width="0.8" />
<line x1="163.46" y1="492.20" x2="163.46" y2="493.40" stroke="#999" stroke-width="0.5" />
<line x1="171.32" y1="492.20" x2="171.32" y2="493.40" stroke="#999" stroke-width="0.5" />
<line x1="179.19" y1="492.20" x2="179.19" y2="493.40" stroke="#999" stroke-width="0.5" />
<line x1="187.05" y1="492.20" x2="187.05" y2="493.40" stroke="#999" stroke-width="0.5" />
<line x1="194.91" y1="492.20" x2="194.91" y2="493.40" stroke="#999" stroke-width="0.5" />
<line x1="202.78" y1="492.20" x2="202.78" y2="493.40" stroke="#999" stroke-width="0.5" />
<line x1="210.64" y1="492.20" x2="210.64" y2="493.40" stroke="#999" stroke-width="0.5" />
<line x1="154.60" y1="476.57" x2="155.60" y2="476.57" stroke="#999" stroke-width="0.5" />
<line x1="154.60" y1="460.95" x2="155.60" y2="460.95" stroke="#999" stroke-width="0.5" />
<line x1="154.60" y1="445.32" x2="155.60" y2="445.32" stroke="#999" stroke-width="0.5" />
<polyline fill="none" stroke="#2e2e2e" stroke-width="0.7" stroke-linejoin="round" points="155.9,482.5 155.9,483.2 155.9,483.8 155.9,484.5 155.9,485.2 155.9,485.8 155.9,486.5 155.9,487.2 155.9,487.9 155.9,488.5 155.9,489.2 155.9,489.9 155.9,490.5 155.9,491.2 156.5,491.2 157.2,490.2 157.6,490.8 158.2,489.7 158.7,489.5 159.1,488.7 159.7,488.3 160.0,487.5 160.4,487.3 161.0,486.8 161.4,486.6 161.7,485.5 162.0,485.1 162.4,484.5 162.7,484.3 162.7,482.9 163.3,481.5 163.3,481.6 163.4,481.5 163.8,480.9 164.1,479.1 164.0,479.9 164.7,479.1 165.0,478.3 165.1,478.1 165.3,477.3 165.4,476.6 166.1,475.5 165.8,475.1 165.8,473.6 166.3,473.7 166.4,473.2 166.8,472.3 166.4,471.4 166.7,471.6 166.6,470.2 167.1,469.6 166.8,469.4 167.3,468.8 167.6,467.1 167.4,467.0 168.0,467.1 167.9,465.4 168.6,464.6 168.4,464.2 168.4,463.5 167.6,465.1 168.6,462.3 168.4,462.0 168.8,463.3 169.2,459.4 169.4,458.6 169.2,459.0 169.4,460.0 169.0,456.9 169.8,458.7 169.9,456.2 170.0,456.8 169.8,453.5 170.3,455.9 169.5,455.2 170.4,453.9 170.1,455.7 170.5,452.1 170.5,452.7 170.6,452.4 170.7,450.8 170.8,450.0 171.4,447.5 171.1,448.9 171.7,448.2 171.5,446.2 171.8,447.3 171.1,445.6 172.0,446.8 171.9,444.8 172.0,444.4 172.1,442.3 172.3,442.1 172.8,440.9 173.0,440.0 173.0,439.7 173.2,441.8 173.3,438.8 172.9,439.1 173.6,437.6 173.8,437.2 174.1,437.9 174.3,437.5 174.3,435.4 174.3,434.8 174.1,434.3 175.0,434.8 175.4,434.7 175.7,437.0 175.4,439.5 176.0,437.5 177.6,439.5 177.3,434.9 177.4,437.7 177.2,437.1 178.3,436.8 178.3,435.2 178.7,435.2 179.0,435.4 179.4,433.2 180.0,436.7 180.1,436.1 180.4,438.5 181.3,439.8 180.6,436.9 182.1,438.4 182.4,438.0 182.4,435.8 182.5,438.2 182.6,435.7 183.5,441.3 182.9,438.3 183.0,440.0 183.3,441.8 183.9,439.7 183.7,441.0 183.7,442.2 183.7,443.3 183.4,441.4 183.9,442.7 184.3,444.8 184.4,446.1 184.3,445.2 184.6,444.3 184.9,447.9 184.9,447.9 185.1,449.7 185.4,450.1 185.7,450.2 185.4,449.9 185.4,450.3 186.2,453.5 186.0,452.5 186.2,454.3 185.8,455.0 186.4,453.8 186.5,456.4 186.5,454.8 186.5,455.7 186.7,458.4 187.6,457.6 187.2,459.3 187.4,458.3 187.6,460.9 187.6,461.3 187.7,461.3 188.3,461.9 188.1,461.0 188.2,463.0 188.8,463.3 188.9,465.8 188.5,465.1 189.1,467.0 189.0,466.2 189.7,465.9 190.8,465.7 191.4,465.3 192.0,465.3 191.4,466.1 192.0,467.1 192.5,467.1 192.6,468.7 193.6,469.0 193.8,469.2 194.4,468.5 195.3,468.1 194.7,468.7 195.4,469.5 195.7,470.6 196.8,470.9 196.1,470.9 196.1,471.3 197.1,471.7 197.2,472.8 198.6,472.5 199.1,473.2 200.2,474.1 200.5,475.6 200.7,475.1 201.4,476.6 201.5,476.1 201.8,477.0 202.2,476.3 202.9,476.0 204.1,476.7 205.0,475.1 204.5,477.0 205.3,478.1 205.0,478.9 205.5,478.7 205.7,479.2 205.6,480.3 205.8,479.9 206.1,480.9 206.4,482.0 206.5,482.5 207.0,482.9 207.1,484.0 207.6,484.2 207.7,484.8 207.9,486.0 208.1,486.5 208.5,487.2 208.8,486.9 209.0,487.8 209.2,488.5 209.5,489.4 210.1,489.8 210.8,490.3 211.3,490.6 212.0,491.2 212.7,490.9 213.3,491.8 214.0,491.5 214.7,491.7 215.4,491.8 216.0,491.8 216.7,491.9 217.4,491.9 218.1,492.0"/>
<path d="M221.7,492.2 L221.7,429.7 L283.7,429.7 L283.7,492.2" fill="none" stroke="#8a8a8a" stroke-width="0.9"/>
<line x1="221.70" y1="492.20" x2="283.70" y2="492.20" stroke="#8a8a8a" stroke-width="0.8" />
<line x1="229.45" y1="492.20" x2="229.45" y2="493.40" stroke="#999" stroke-width="0.5" />
<line x1="237.20" y1="492.20" x2="237.20" y2="493.40" stroke="#999" stroke-width="0.5" />
<line x1="244.95" y1="492.20" x2="244.95" y2="493.40" stroke="#999" stroke-width="0.5" />
<line x1="252.70" y1="492.20" x2="252.70" y2="493.40" stroke="#999" stroke-width="0.5" />
<line x1="260.45" y1="492.20" x2="260.45" y2="493.40" stroke="#999" stroke-width="0.5" />
<line x1="268.20" y1="492.20" x2="268.20" y2="493.40" stroke="#999" stroke-width="0.5" />
<line x1="275.95" y1="492.20" x2="275.95" y2="493.40" stroke="#999" stroke-width="0.5" />
<line x1="220.70" y1="476.57" x2="221.70" y2="476.57" stroke="#999" stroke-width="0.5" />
<line x1="220.70" y1="460.95" x2="221.70" y2="460.95" stroke="#999" stroke-width="0.5" />
<line x1="220.70" y1="445.32" x2="221.70" y2="445.32" stroke="#999" stroke-width="0.5" />
<polyline fill="none" stroke="#2e2e2e" stroke-width="0.7" stroke-linejoin="round" points="222.3,491.6 223.0,491.3 223.7,491.0 224.4,491.0 225.1,490.7 225.8,490.5 226.5,490.4 227.0,489.3 227.4,489.2 227.8,488.2 228.2,488.1 228.7,487.4 229.2,487.4 229.4,486.3 230.1,486.2 230.3,485.6 230.9,485.3 231.2,484.7 231.6,484.0 231.5,483.0 232.0,482.7 232.3,481.9 232.4,481.0 232.7,480.5 232.8,480.7 233.3,480.3 233.4,479.1 233.4,479.0 233.5,477.4 234.2,477.0 234.2,476.4 234.4,475.4 234.8,474.0 234.5,473.9 234.8,473.1 235.5,473.4 235.6,471.4 235.3,472.1 235.4,469.9 235.8,469.8 235.2,469.3 235.5,469.1 235.7,468.9 235.9,467.1 236.7,466.5 236.6,466.9 236.1,465.8 236.5,464.5 236.9,463.5 236.7,463.0 236.4,462.1 237.5,462.8 237.0,461.7 237.4,458.6 237.6,461.3 238.0,460.4 237.6,459.9 238.1,459.2 237.9,456.2 238.1,455.6 238.0,456.9 238.8,453.7 238.9,455.4 239.0,453.1 239.4,455.9 239.0,452.9 239.3,452.3 239.2,452.9 239.5,449.8 239.6,450.1 240.1,450.2 239.6,450.5 240.4,449.0 240.1,447.4 240.7,448.8 240.4,447.4 241.2,444.8 242.2,446.1 242.2,444.1 241.7,445.4 242.4,442.9 242.6,442.6 242.7,443.1 243.0,442.5 243.6,440.7 243.8,440.0 244.0,441.8 244.6,439.2 245.0,438.3 245.2,436.6 245.1,436.8 245.4,438.8 246.1,438.1 246.0,437.2 247.0,436.2 246.8,434.1 247.2,436.4 247.2,433.8 247.7,435.5 248.3,435.9 248.1,436.0 247.9,438.7 248.9,438.9 248.3,436.8 248.2,437.9 248.3,440.3 249.3,441.0 249.0,439.3 249.4,439.6 249.2,441.6 249.5,443.2 249.5,443.4 249.6,443.9 249.7,443.8 249.7,443.6 250.0,448.7 250.1,445.7 249.7,446.8 250.5,447.7 250.4,449.6 250.2,448.9 250.7,452.0 250.2,450.2 251.6,450.4 251.0,451.3 251.1,453.3 250.8,453.5 251.8,453.3 251.7,454.3 251.5,454.0 252.0,456.6 252.0,455.9 251.7,458.0 251.8,458.7 252.2,458.2 252.3,457.1 252.0,459.3 252.8,460.4 253.0,461.1 252.4,461.1 253.0,464.0 252.8,464.1 253.2,464.7 253.3,465.2 253.2,466.2 253.2,465.2 253.6,467.4 253.7,466.5 253.8,467.5 254.2,468.3 254.3,468.8 254.6,469.8 255.0,470.5 254.5,471.3 255.1,471.4 255.1,472.8 255.6,472.5 256.2,473.4 256.3,474.0 255.9,474.1 256.7,476.2 256.9,476.3 256.9,476.9 257.4,477.7 257.8,478.3 257.8,477.4 258.3,479.5 258.7,479.4 258.8,480.0 259.2,480.8 259.5,482.0 260.1,482.7 260.2,483.2 260.6,483.0 261.0,483.4 261.5,483.9 262.1,485.0 262.3,484.7 262.9,485.4 263.4,485.5 264.0,485.6 264.6,486.8 264.9,487.3 265.6,488.1 266.2,488.0 266.9,488.1 267.6,488.9 268.1,488.8 268.8,489.0 269.4,489.2 270.1,490.2 270.7,490.0 271.4,490.1 272.1,490.1 272.8,491.0 273.5,490.5 274.2,491.5 274.8,490.8 275.6,490.9 276.2,491.7 276.9,491.2 277.6,491.0 278.3,491.4 279.0,491.2 279.7,491.7 280.4,491.8 281.0,491.4 281.7,491.9 282.4,491.9 283.1,491.7"/>
<path d="M287.7,492.2 L287.7,429.7 L350.0,429.7 L350.0,492.2" fill="none" stroke="#8a8a8a" stroke-width="0.9"/>
<line x1="287.70" y1="492.20" x2="350.00" y2="492.20" stroke="#8a8a8a" stroke-width="0.8" />
<line x1="295.49" y1="492.20" x2="295.49" y2="493.40" stroke="#999" stroke-width="0.5" />
<line x1="303.27" y1="492.20" x2="303.27" y2="493.40" stroke="#999" stroke-width="0.5" />
<line x1="311.06" y1="492.20" x2="311.06" y2="493.40" stroke="#999" stroke-width="0.5" />
<line x1="318.85" y1="492.20" x2="318.85" y2="493.40" stroke="#999" stroke-width="0.5" />
<line x1="326.64" y1="492.20" x2="326.64" y2="493.40" stroke="#999" stroke-width="0.5" />
<line x1="334.43" y1="492.20" x2="334.43" y2="493.40" stroke="#999" stroke-width="0.5" />
<line x1="342.21" y1="492.20" x2="342.21" y2="493.40" stroke="#999" stroke-width="0.5" />
<line x1="286.70" y1="476.57" x2="287.70" y2="476.57" stroke="#999" stroke-width="0.5" />
<line x1="286.70" y1="460.95" x2="287.70" y2="460.95" stroke="#999" stroke-width="0.5" />
<line x1="286.70" y1="445.32" x2="287.70" y2="445.32" stroke="#999" stroke-width="0.5" />
<polyline fill="none" stroke="#2e2e2e" stroke-width="0.7" stroke-linejoin="round" points="288.6,491.9 289.3,491.4 289.9,491.7 290.6,491.1 291.3,491.2 291.9,490.7 292.6,491.1 293.3,491.1 293.9,490.5 294.6,490.5 295.3,490.5 295.9,490.5 296.7,490.7 297.3,490.2 297.6,489.1 297.9,489.2 298.3,487.9 298.6,487.7 299.0,487.2 299.3,486.1 299.6,485.4 299.9,485.2 300.2,484.9 300.4,484.3 300.4,483.3 300.5,482.3 300.7,481.8 301.0,482.6 300.9,481.0 301.1,479.7 301.1,479.4 301.3,479.5 301.1,478.6 301.7,477.4 301.9,476.9 302.0,476.3 301.9,474.4 302.4,473.5 302.3,474.4 302.3,473.1 303.1,474.1 303.1,472.2 302.3,470.6 302.8,470.7 303.2,470.0 303.1,471.7 303.5,469.0 303.8,468.3 303.3,469.0 303.7,467.1 303.5,466.6 303.4,464.3 304.2,465.4 303.6,464.4 304.2,463.4 304.3,461.9 304.8,462.9 304.9,461.7 304.9,460.5 305.2,460.4 305.1,459.6 305.1,458.9 305.5,460.4 306.2,458.1 305.2,458.4 306.0,457.0 306.3,457.5 305.7,455.8 306.3,453.5 306.0,454.3 306.3,452.7 306.7,452.5 306.4,451.5 307.3,452.5 307.3,450.4 307.3,450.4 307.1,449.8 307.7,449.3 308.1,447.0 308.2,449.7 308.0,449.0 307.8,445.7 308.1,444.5 308.4,444.7 309.0,441.8 308.5,446.1 308.8,443.6 308.7,442.5 308.8,441.4 309.3,441.1 309.3,440.6 309.8,439.7 309.7,439.7 310.5,438.8 310.4,438.4 310.7,436.5 311.4,437.3 311.0,435.6 311.5,435.6 311.5,433.5 312.3,433.9 312.3,432.1 312.7,433.6 313.3,433.8 313.1,434.2 313.5,435.0 313.5,436.1 313.5,437.6 314.1,436.8 314.1,438.8 314.3,439.0 315.1,439.9 314.9,439.3 315.1,439.4 315.0,442.5 315.2,440.5 315.5,443.8 314.8,444.1 315.8,443.0 315.9,443.1 315.9,447.3 315.7,447.1 315.9,445.1 316.0,447.0 316.1,448.7 316.4,448.8 316.9,449.2 316.5,450.4 316.5,450.3 316.9,452.6 316.8,450.7 317.0,452.3 317.0,454.2 317.5,454.2 317.6,453.2 317.9,454.9 318.0,455.2 317.8,454.7 318.5,457.7 318.2,457.6 318.0,459.2 319.0,458.1 318.7,460.1 319.7,458.5 319.2,460.9 319.9,461.4 320.2,459.9 319.5,463.3 319.8,463.9 320.7,464.9 320.8,466.4 321.5,465.3 321.4,465.4 321.9,466.3 322.3,466.4 322.5,468.2 322.7,469.7 323.0,470.0 322.9,470.2 323.7,470.5 323.9,470.7 324.3,471.4 324.7,470.8 325.2,472.4 325.7,472.7 326.0,474.4 327.2,473.4 327.7,474.0 328.1,473.9 329.2,472.8 329.4,473.1 330.0,474.1 330.6,474.2 331.1,474.8 331.8,475.3 332.0,474.8 332.8,473.4 334.1,474.2 334.4,473.6 334.7,474.2 335.6,474.9 336.3,475.5 336.8,475.3 336.8,477.0 336.9,477.4 337.1,477.2 337.9,478.2 337.9,478.9 337.8,479.9 337.8,480.8 338.2,481.6 338.4,481.2 338.6,482.7 338.7,483.8 339.1,483.9 339.4,484.0 339.4,484.4 339.7,485.8 339.9,486.2 340.3,486.8 340.5,487.6 340.9,488.2 341.1,488.7 341.3,489.3 342.1,489.0 342.7,489.8 343.3,490.6 344.0,490.6 344.7,491.0 345.3,491.6 346.0,491.4 346.6,491.5 347.3,491.7 348.0,491.4 348.7,491.7 349.3,491.9 350.0,491.7"/>
<path d="M353.6,492.2 L353.6,429.7 L416.4,429.7 L416.4,492.2" fill="none" stroke="#8a8a8a" stroke-width="0.9"/>
<line x1="353.60" y1="492.20" x2="416.40" y2="492.20" stroke="#8a8a8a" stroke-width="0.8" />
<line x1="361.45" y1="492.20" x2="361.45" y2="493.40" stroke="#999" stroke-width="0.5" />
<line x1="369.30" y1="492.20" x2="369.30" y2="493.40" stroke="#999" stroke-width="0.5" />
<line x1="377.15" y1="492.20" x2="377.15" y2="493.40" stroke="#999" stroke-width="0.5" />
<line x1="385.00" y1="492.20" x2="385.00" y2="493.40" stroke="#999" stroke-width="0.5" />
<line x1="392.85" y1="492.20" x2="392.85" y2="493.40" stroke="#999" stroke-width="0.5" />
<line x1="400.70" y1="492.20" x2="400.70" y2="493.40" stroke="#999" stroke-width="0.5" />
<line x1="408.55" y1="492.20" x2="408.55" y2="493.40" stroke="#999" stroke-width="0.5" />
<line x1="352.60" y1="476.57" x2="353.60" y2="476.57" stroke="#999" stroke-width="0.5" />
<line x1="352.60" y1="460.95" x2="353.60" y2="460.95" stroke="#999" stroke-width="0.5" />
<line x1="352.60" y1="445.32" x2="353.60" y2="445.32" stroke="#999" stroke-width="0.5" />
<polyline fill="none" stroke="#2e2e2e" stroke-width="0.7" stroke-linejoin="round" points="354.6,491.6 355.2,491.6 355.7,491.4 356.3,491.0 356.9,490.0 357.5,490.3 358.2,489.6 358.8,490.1 359.5,488.4 360.2,488.8 360.9,488.7 361.7,488.3 362.4,487.9 362.5,487.5 362.9,487.4 363.2,486.2 363.4,485.3 363.7,485.7 364.1,484.3 364.3,484.5 364.6,482.8 365.0,483.1 365.2,483.2 365.5,481.6 365.7,481.7 365.7,481.2 366.2,480.3 366.6,479.5 366.6,478.1 367.0,478.2 366.8,476.9 367.8,475.7 367.3,476.0 367.8,474.7 368.1,474.5 368.0,474.7 367.9,474.0 368.2,472.7 368.5,471.5 369.1,471.6 368.7,468.8 368.9,469.8 369.4,470.0 369.3,469.1 369.7,468.8 369.7,466.5 369.7,466.2 370.2,466.7 370.1,466.0 370.3,465.1 370.9,464.9 371.3,465.4 371.0,462.7 371.4,461.9 371.6,463.7 371.3,459.5 372.0,459.7 372.1,460.1 371.9,461.1 372.9,458.1 372.3,458.5 372.3,455.7 372.9,454.6 373.4,456.3 373.1,455.5 374.0,454.3 373.7,452.6 374.0,453.7 374.1,452.6 374.1,453.3 374.2,451.3 374.4,450.1 374.7,450.2 375.1,451.3 375.1,448.7 375.3,448.9 375.3,448.0 375.2,446.8 375.9,447.7 375.9,446.8 375.8,445.7 376.2,442.7 376.1,444.3 376.7,442.4 377.0,440.8 377.4,442.9 377.0,440.8 377.4,440.4 377.4,440.2 377.7,441.0 378.4,438.6 378.5,438.0 378.8,438.4 379.2,436.0 380.0,437.7 380.0,437.3 380.0,438.3 380.4,439.4 381.1,441.4 381.3,440.3 381.4,442.7 381.8,441.3 381.7,442.7 382.0,443.2 382.2,445.4 382.3,444.5 381.9,447.1 381.9,447.7 382.6,447.3 382.6,449.0 382.5,447.4 383.0,447.2 382.8,449.0 382.9,450.5 383.1,450.1 383.8,453.0 383.1,451.7 383.7,452.8 383.9,453.5 384.2,453.4 384.1,455.2 384.0,454.7 384.0,456.4 384.2,456.2 384.7,455.7 384.7,457.6 384.4,459.1 385.0,458.8 384.8,460.3 385.3,460.8 385.7,462.0 386.1,461.9 385.5,462.1 385.5,462.5 385.4,463.4 386.2,464.0 386.1,465.4 386.1,466.4 386.1,465.8 386.7,466.0 387.4,468.3 387.7,467.1 387.8,468.8 388.1,469.1 388.0,469.4 389.0,470.3 388.8,471.9 389.1,471.2 389.5,472.9 389.7,472.6 390.0,473.5 389.8,474.0 390.6,474.9 390.6,474.9 390.8,476.6 391.5,476.5 391.6,477.8 392.0,477.6 391.8,477.8 392.4,479.6 392.3,479.4 392.4,480.6 393.1,481.4 393.3,481.5 393.6,482.6 394.0,483.2 394.1,483.4 394.5,484.0 394.7,484.6 394.9,485.4 395.5,486.3 396.2,486.5 396.7,486.8 397.4,486.9 397.9,486.8 398.5,487.2 399.1,488.0 399.6,487.4 400.3,488.0 401.1,488.3 401.8,489.0 402.4,488.8 403.2,489.1 403.7,489.5 404.6,489.5 405.1,489.7 405.8,489.5 406.4,489.8 407.1,489.7 407.8,489.7 408.4,490.2 409.0,490.0 409.6,490.6 410.3,491.1 411.0,490.4 411.7,490.9 412.4,490.7 413.1,490.8 413.9,490.4 414.6,491.1 415.3,491.0 416.0,491.2"/>
<path d="M420.0,492.2 L420.0,429.7 L483.5,429.7 L483.5,492.2" fill="none" stroke="#8a8a8a" stroke-width="0.9"/>
<line x1="420.00" y1="492.20" x2="483.50" y2="492.20" stroke="#8a8a8a" stroke-width="0.8" />
<line x1="427.94" y1="492.20" x2="427.94" y2="493.40" stroke="#999" stroke-width="0.5" />
<line x1="435.88" y1="492.20" x2="435.88" y2="493.40" stroke="#999" stroke-width="0.5" />
<line x1="443.81" y1="492.20" x2="443.81" y2="493.40" stroke="#999" stroke-width="0.5" />
<line x1="451.75" y1="492.20" x2="451.75" y2="493.40" stroke="#999" stroke-width="0.5" />
<line x1="459.69" y1="492.20" x2="459.69" y2="493.40" stroke="#999" stroke-width="0.5" />
<line x1="467.62" y1="492.20" x2="467.62" y2="493.40" stroke="#999" stroke-width="0.5" />
<line x1="475.56" y1="492.20" x2="475.56" y2="493.40" stroke="#999" stroke-width="0.5" />
<line x1="419.00" y1="476.57" x2="420.00" y2="476.57" stroke="#999" stroke-width="0.5" />
<line x1="419.00" y1="460.95" x2="420.00" y2="460.95" stroke="#999" stroke-width="0.5" />
<line x1="419.00" y1="445.32" x2="420.00" y2="445.32" stroke="#999" stroke-width="0.5" />
<polyline fill="none" stroke="#2e2e2e" stroke-width="0.7" stroke-linejoin="round" points="421.5,491.2 422.1,491.2 422.8,490.8 423.5,490.5 424.1,490.1 424.7,490.0 425.3,489.7 426.0,489.9 426.7,489.4 427.3,489.1 427.7,488.8 428.2,488.1 428.5,488.4 428.8,487.7 429.4,487.1 429.8,486.1 430.1,485.4 430.8,484.9 431.1,484.9 431.2,483.7 431.8,482.7 431.8,482.8 431.8,481.7 432.3,481.8 432.6,480.2 432.7,479.5 432.8,478.9 433.1,478.9 433.1,478.6 433.8,478.2 433.8,476.8 433.9,475.7 434.2,474.8 434.7,474.9 434.8,474.7 434.7,473.3 435.1,472.7 435.4,471.1 435.2,470.7 435.3,471.0 435.6,471.4 436.1,470.7 436.1,468.7 436.0,469.3 436.1,467.9 436.3,467.2 436.9,466.6 436.8,466.9 437.1,465.4 436.8,464.4 437.0,464.8 437.1,464.1 437.3,464.2 438.1,462.7 438.2,460.6 437.5,460.1 438.4,460.8 437.6,459.3 438.4,458.8 438.6,457.9 438.6,456.0 439.4,458.6 439.0,455.9 439.6,456.0 439.2,455.6 439.7,454.4 440.2,455.0 440.4,453.5 440.7,451.9 440.5,451.2 440.4,451.9 440.3,449.6 441.0,449.8 441.3,448.6 441.3,446.0 441.4,447.8 442.2,447.9 441.9,446.0 442.7,445.4 442.9,446.2 443.3,446.2 443.8,445.4 444.4,444.3 443.9,442.8 444.2,443.0 444.2,440.3 444.4,440.3 444.3,442.0 444.4,439.7 444.7,435.9 444.6,439.1 444.5,437.4 445.1,437.0 445.3,436.4 444.9,433.1 445.1,435.5 445.0,432.7 445.0,435.3 445.1,432.2 445.7,432.0 445.1,433.9 445.7,435.5 446.4,433.9 445.8,435.1 446.1,435.1 446.4,435.3 446.7,438.1 447.5,436.2 447.0,437.3 447.3,439.1 447.4,439.3 447.4,442.6 447.6,439.7 447.6,440.7 447.9,442.4 448.1,442.5 447.7,443.3 448.1,445.1 448.1,446.1 448.5,446.1 448.1,443.1 449.0,445.5 449.0,445.3 449.1,449.2 448.9,449.3 449.2,449.2 449.5,450.3 449.2,450.3 449.7,450.6 449.4,450.1 449.7,452.0 449.3,452.8 450.1,453.4 449.7,455.1 450.5,454.7 450.9,456.1 450.4,457.3 450.7,457.5 451.4,456.8 450.9,457.6 451.0,458.5 451.5,460.3 451.6,461.3 451.9,460.2 451.7,460.8 451.9,461.9 451.9,463.6 452.2,463.6 452.1,463.0 452.6,464.4 452.8,465.5 452.7,465.9 452.7,466.8 453.1,466.2 453.2,466.8 453.3,467.9 453.4,469.1 453.3,469.5 453.7,470.5 453.4,471.3 454.4,471.2 454.4,470.8 454.6,473.0 454.8,472.7 454.7,474.3 455.1,475.3 455.3,475.5 455.7,476.4 456.1,477.2 456.2,476.9 456.5,478.3 457.0,478.6 456.7,478.9 457.5,479.6 457.6,480.2 458.0,481.3 458.2,481.1 458.5,482.1 459.2,482.1 459.5,483.5 459.9,484.0 460.5,483.3 460.9,484.9 461.5,484.2 461.8,485.9 462.4,486.0 462.9,486.4 463.5,486.6 464.1,486.9 465.1,486.7 465.6,487.3 466.3,487.8 466.9,487.9 467.5,487.9 468.2,488.1 468.8,487.9 469.5,489.0 470.0,488.8 470.6,488.8 471.3,489.8 471.8,489.6 472.4,490.3 473.0,490.8 473.7,490.4 474.5,491.0 475.1,491.1 475.8,490.9 476.4,490.9 477.1,490.9 477.8,490.7 478.4,491.0 479.1,491.3 479.9,491.3 480.6,491.3 481.4,491.1 482.1,491.3 482.9,491.4"/>
<text x="50.30" y="427.40" font-size="8.8" text-anchor="middle" font-weight="bold" fill="#111" >No T<tspan baseline-shift="-22%" font-size="0.74em">reg</tspan></text>
<text x="116.50" y="427.40" font-size="8.3" text-anchor="middle" font-weight="bold" fill="#111" >WT T<tspan baseline-shift="-22%" font-size="0.74em">reg</tspan></text>
<text x="188.00" y="417.60" font-size="8.1" text-anchor="middle" font-weight="bold" fill="#111" >CCL5 pretreated</text>
<text x="188.00" y="427.40" font-size="8.3" text-anchor="middle" font-weight="bold" fill="#111" >WT T<tspan baseline-shift="-22%" font-size="0.74em">reg</tspan></text>
<text x="249.50" y="427.40" font-size="8.3" text-anchor="middle" font-weight="bold" fill="#111" >CCR3 KO T<tspan baseline-shift="-22%" font-size="0.74em">reg</tspan></text>
<text x="316.00" y="415.80" font-size="8.1" text-anchor="middle" font-weight="bold" fill="#111" >CCL5 pretreated</text>
<text x="316.00" y="425.40" font-size="8.3" text-anchor="middle" font-weight="bold" fill="#111" >CCR3 KO T<tspan baseline-shift="-22%" font-size="0.74em">reg</tspan></text>
<text x="381.70" y="427.40" font-size="8.3" text-anchor="middle" font-weight="bold" fill="#111" >CCR5 KO T<tspan baseline-shift="-22%" font-size="0.74em">reg</tspan></text>
<text x="449.80" y="415.80" font-size="8.1" text-anchor="middle" font-weight="bold" fill="#111" >CCL5 pretreated</text>
<text x="449.80" y="425.40" font-size="8.3" text-anchor="middle" font-weight="bold" fill="#111" >CCR5 KO T<tspan baseline-shift="-22%" font-size="0.74em">reg</tspan></text>
<line x1="60.00" y1="442.40" x2="85.40" y2="442.40" stroke="#777" stroke-width="0.85" />
<line x1="60.00" y1="441.10" x2="60.00" y2="443.70" stroke="#777" stroke-width="0.8" />
<line x1="85.40" y1="441.10" x2="85.40" y2="443.70" stroke="#777" stroke-width="0.8" />
<text x="72.30" y="438.80" font-size="8.0" text-anchor="middle" font-weight="bold" fill="#111" >6.8</text>
<line x1="125.70" y1="442.20" x2="151.20" y2="442.20" stroke="#777" stroke-width="0.85" />
<line x1="125.70" y1="440.90" x2="125.70" y2="443.50" stroke="#777" stroke-width="0.8" />
<line x1="151.20" y1="440.90" x2="151.20" y2="443.50" stroke="#777" stroke-width="0.8" />
<text x="138.70" y="438.80" font-size="8.0" text-anchor="middle" font-weight="bold" fill="#111" >10.2</text>
<line x1="191.30" y1="441.80" x2="216.80" y2="441.80" stroke="#777" stroke-width="0.85" />
<line x1="191.30" y1="440.50" x2="191.30" y2="443.10" stroke="#777" stroke-width="0.8" />
<line x1="216.80" y1="440.50" x2="216.80" y2="443.10" stroke="#777" stroke-width="0.8" />
<text x="205.00" y="438.80" font-size="8.0" text-anchor="middle" font-weight="bold" fill="#111" >21.3</text>
<line x1="257.60" y1="443.20" x2="282.60" y2="443.20" stroke="#777" stroke-width="0.85" />
<line x1="257.60" y1="441.90" x2="257.60" y2="444.50" stroke="#777" stroke-width="0.8" />
<line x1="282.60" y1="441.90" x2="282.60" y2="444.50" stroke="#777" stroke-width="0.8" />
<text x="268.70" y="438.80" font-size="8.0" text-anchor="middle" font-weight="bold" fill="#111" >9.7</text>
<line x1="324.50" y1="443.20" x2="348.50" y2="443.20" stroke="#777" stroke-width="0.85" />
<line x1="324.50" y1="441.90" x2="324.50" y2="444.50" stroke="#777" stroke-width="0.8" />
<line x1="348.50" y1="441.90" x2="348.50" y2="444.50" stroke="#777" stroke-width="0.8" />
<text x="334.70" y="438.80" font-size="8.0" text-anchor="middle" font-weight="bold" fill="#111" >23.5</text>
<line x1="390.10" y1="443.20" x2="415.00" y2="443.20" stroke="#777" stroke-width="0.85" />
<line x1="390.10" y1="441.90" x2="390.10" y2="444.50" stroke="#777" stroke-width="0.8" />
<line x1="415.00" y1="441.90" x2="415.00" y2="444.50" stroke="#777" stroke-width="0.8" />
<text x="402.00" y="438.80" font-size="8.0" text-anchor="middle" font-weight="bold" fill="#111" >11.6</text>
<line x1="457.00" y1="443.20" x2="482.00" y2="443.20" stroke="#777" stroke-width="0.85" />
<line x1="457.00" y1="441.90" x2="457.00" y2="444.50" stroke="#777" stroke-width="0.8" />
<line x1="482.00" y1="441.90" x2="482.00" y2="444.50" stroke="#777" stroke-width="0.8" />
<text x="468.00" y="438.80" font-size="8.0" text-anchor="middle" font-weight="bold" fill="#111" >11.5</text>
<line x1="203.50" y1="496.60" x2="304.00" y2="496.60" stroke="#111" stroke-width="1.6" />
<polygon points="302.5,493.4 310.6,496.6 302.5,499.8" fill="#111"/>
<text x="254.30" y="507.60" font-size="8.0" text-anchor="middle" font-weight="bold" fill="#111" >Annexin V</text>
</svg>
</body></html>
